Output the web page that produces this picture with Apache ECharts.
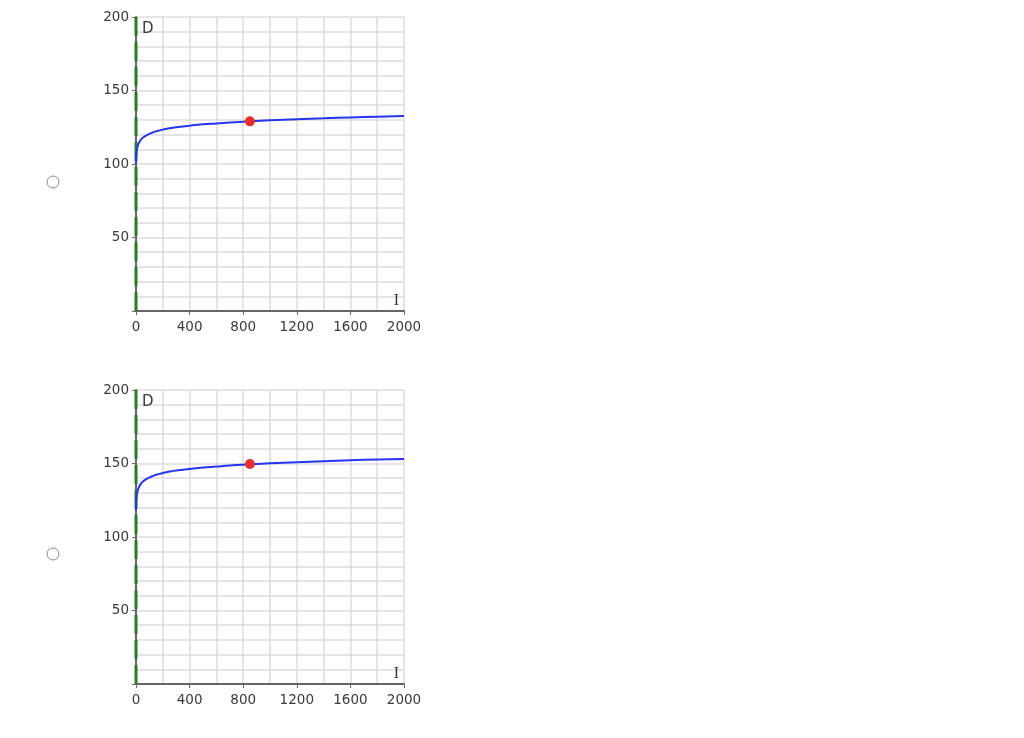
<!DOCTYPE html>
<html>
<head>
<meta charset="utf-8">
<script src="https://cdn.jsdelivr.net/npm/echarts@6/dist/echarts.min.js"></script>
<style>
html,body{margin:0;padding:0;background:#fff;}
#c{width:1024px;height:738px;}
</style>
</head>
<body>
<div id="c"></div>
<script>
// ---- data ----
const I1 = [0, 1, 3, 6, 10, 15, 20, 30, 40, 50, 65, 80, 100, 120, 150, 200, 250, 300, 400, 500, 600, 700, 850, 1000, 1200, 1400, 1600, 1800, 2000];
const D1 = [100, 104, 107, 109.3, 111.2, 112.8, 114, 115.7, 116.9, 117.8, 118.8, 119.6, 120.5, 121.3, 122.2, 123.4, 124.3, 125, 126.1, 127, 127.6, 128.2, 129, 129.7, 130.5, 131.1, 131.7, 132.2, 132.7];
const I2 = [0, 1, 3, 6, 10, 15, 20, 30, 40, 50, 65, 80, 100, 120, 150, 200, 250, 300, 400, 500, 600, 700, 850, 1000, 1200, 1400, 1600, 1800, 2000];
const D2 = [118, 122.5, 126, 128.5, 130.6, 132.2, 133.5, 135.3, 136.6, 137.6, 138.7, 139.6, 140.5, 141.3, 142.3, 143.5, 144.5, 145.3, 146.3, 147.2, 147.9, 148.6, 149.5, 150.1, 150.9, 151.6, 152.2, 152.7, 153.1];
const point1 = [850, 129];
const point2 = [850, 149.6];
const guideI = [0, 0];
const guideD = [0, 200];
const xRange = [0, 2000];
const yRange = [0, 200];
const xName = 'I';
const yName = 'D';

// ---- chart ----
const FONT = 'DejaVu Sans';
const gridColor = '#dcdcdc';
const axisColor = '#666';
const labelColor = '#3a3a3a';

function xAxisCfg(gi) {
  return {
    type: 'value', gridIndex: gi, min: xRange[0], max: xRange[1], interval: 400,
    axisLine: { show: true, onZero: false, lineStyle: { color: axisColor, width: 2 } },
    axisTick: { show: true, length: 4, lineStyle: { color: axisColor, width: 1 } },
    axisLabel: { color: labelColor, fontSize: 13.5, fontFamily: FONT, margin: 9, formatter: v => String(v) },
    splitLine: { show: true, lineStyle: { color: gridColor, width: 1.5 } },
    minorTick: { show: false, splitNumber: 2 },
    minorSplitLine: { show: true, lineStyle: { color: gridColor, width: 1.5 } },
    name: xName, nameLocation: 'end', nameGap: -5,
    nameTextStyle: { fontFamily: 'Liberation Serif', fontSize: 16, color: labelColor, align: 'right', verticalAlign: 'bottom', padding: [0, 0, 2, 0] }
  };
}
function yAxisCfg(gi) {
  return {
    type: 'value', gridIndex: gi, min: yRange[0], max: yRange[1], interval: 50,
    axisLine: { show: true, onZero: false, lineStyle: { color: axisColor, width: 2 } },
    axisTick: { show: true, length: 4, lineStyle: { color: axisColor, width: 1 } },
    axisLabel: { color: labelColor, fontSize: 13.5, fontFamily: FONT, margin: 7, formatter: v => (v === 0 ? '' : String(v)) },
    splitLine: { show: true, lineStyle: { color: gridColor, width: 1.5 } },
    minorTick: { show: false, splitNumber: 5 },
    minorSplitLine: { show: true, lineStyle: { color: gridColor, width: 1.5 } },
    name: yName, nameLocation: 'end', nameGap: -5,
    nameTextStyle: { fontFamily: FONT, fontSize: 15, color: labelColor, align: 'left', verticalAlign: 'top', padding: [0, 0, 0, 6] }
  };
}
function guideSeries(gi) {
  return {
    type: 'line', xAxisIndex: gi, yAxisIndex: gi, symbol: 'none', silent: true,
    data: guideI.map((x, i) => [x, guideD[i]]),
    lineStyle: { color: '#2b7a2b', width: 3, type: [19, 6] }, z: 3
  };
}
function curveSeries(gi, xs, ys) {
  return {
    type: 'line', xAxisIndex: gi, yAxisIndex: gi, symbol: 'none', smooth: 0.5,
    data: xs.map((x, i) => [x, ys[i]]),
    lineStyle: { color: '#2435f0', width: 2 }, z: 4
  };
}
function pointSeries(gi, p) {
  return {
    type: 'scatter', xAxisIndex: gi, yAxisIndex: gi, symbolSize: 10,
    data: [p], itemStyle: { color: '#e8302a', opacity: 1 }, z: 5
  };
}

const chart = echarts.init(document.getElementById('c'), null, { renderer: 'canvas' });
chart.setOption({
  animation: false,
  backgroundColor: '#fff',
  grid: [
    { left: 136, top: 17, width: 268, height: 294 },
    { left: 136, top: 390, width: 268, height: 294 }
  ],
  xAxis: [xAxisCfg(0), xAxisCfg(1)],
  yAxis: [yAxisCfg(0), yAxisCfg(1)],
  series: [
    guideSeries(0), curveSeries(0, I1, D1), pointSeries(0, point1),
    guideSeries(1), curveSeries(1, I2, D2), pointSeries(1, point2)
  ],
  graphic: [
    { type: 'circle', shape: { cx: 53, cy: 182, r: 6 }, style: { fill: '#fff', stroke: '#888', lineWidth: 1 } },
    { type: 'circle', shape: { cx: 53, cy: 554, r: 6 }, style: { fill: '#fff', stroke: '#888', lineWidth: 1 } }
  ]
});
</script>
</body>
</html>
